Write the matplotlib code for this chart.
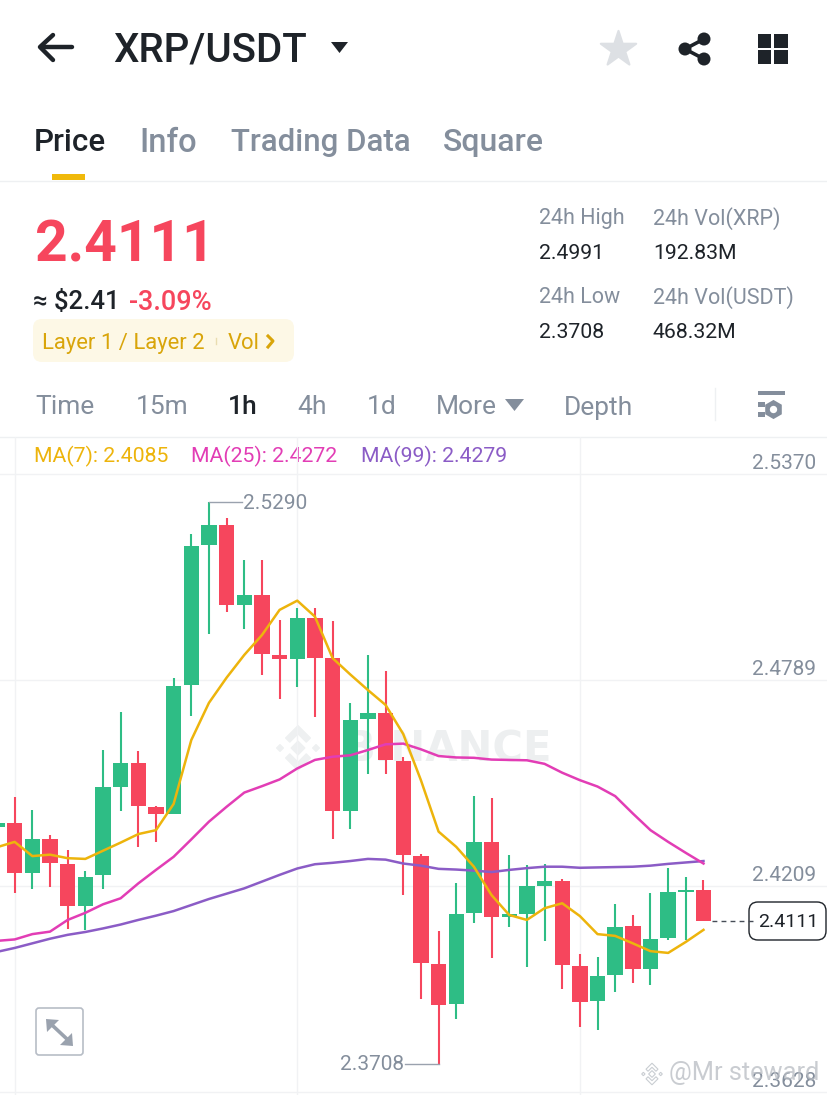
import numpy as np
import matplotlib
matplotlib.use('Agg')
import matplotlib.pyplot as plt
from matplotlib.patches import FancyBboxPatch, Polygon, Circle, Rectangle

plt.rcParams['font.family'] = ['Roboto', 'DejaVu Sans']

# candles, the first one is cut by the left edge
idx = np.arange(-1, 40)
opens = [2.4375, 2.4385, 2.4245, 2.4342, 2.4272, 2.4151, 2.4239, 2.4489, 2.4556, 2.4432, 2.4413,
         2.4774, 2.5169, 2.5226, 2.5001, 2.5028, 2.4859, 2.4848, 2.4964, 2.4851, 2.4421, 2.4680,
         2.4697, 2.4562, 2.4294, 2.3990, 2.3876, 2.4132, 2.4333, 2.4122, 2.4130, 2.4210, 2.4223,
         2.3983, 2.3884, 2.3958, 2.4095, 2.3974, 2.4062, 2.4193, 2.4197]
closes = [2.4385, 2.4244, 2.4342, 2.4273, 2.4151, 2.4235, 2.4489, 2.4556, 2.4434, 2.4413, 2.4772,
          2.5168, 2.5225, 2.5001, 2.5028, 2.4862, 2.4848, 2.4964, 2.4852, 2.4421, 2.4677, 2.4697,
          2.4565, 2.4296, 2.3992, 2.3874, 2.4129, 2.4333, 2.4121, 2.4129, 2.4209, 2.4223, 2.3985,
          2.3883, 2.3955, 2.4094, 2.3974, 2.4060, 2.4192, 2.4198, 2.4111]
highs = [2.4385, 2.4459, 2.4423, 2.4352, 2.4311, 2.4252, 2.4592, 2.4698, 2.4590, 2.4434, 2.4794,
         2.5200, 2.5290, 2.5247, 2.5127, 2.5127, 2.4958, 2.4992, 2.4992, 2.4955, 2.4724, 2.4860,
         2.4815, 2.4571, 2.4299, 2.4082, 2.4218, 2.4463, 2.4456, 2.4296, 2.4267, 2.4270, 2.4227,
         2.4017, 2.4009, 2.4157, 2.4126, 2.4188, 2.4259, 2.4235, 2.4225]
lows = [2.4375, 2.4190, 2.4201, 2.4205, 2.4088, 2.4084, 2.4201, 2.4421, 2.4319, 2.4333, 2.4411,
        2.4688, 2.4918, 2.4981, 2.4933, 2.4803, 2.4737, 2.4769, 2.4685, 2.4340, 2.4368, 2.4523,
        2.4523, 2.4184, 2.3891, 2.3708, 2.3833, 2.4103, 2.4007, 2.4094, 2.3979, 2.4055, 2.3919,
        2.3812, 2.3803, 2.3910, 2.3934, 2.3929, 2.4057, 2.4057, 2.4111]

ma7 = [2.4318, 2.4333, 2.4293, 2.4297, 2.4287, 2.4285, 2.4308, 2.4331, 2.4355, 2.4366, 2.4440,
       2.4620, 2.4725, 2.4796, 2.4860, 2.4916, 2.4987, 2.5013, 2.4968, 2.4851, 2.4805, 2.4761,
       2.4719, 2.4637, 2.4507, 2.4362, 2.4319, 2.4263, 2.4183, 2.4127, 2.4113, 2.4146, 2.4160,
       2.4124, 2.4073, 2.4068, 2.4047, 2.4025, 2.4020, 2.4051, 2.4085]
ma25 = [2.4054, 2.4058, 2.4073, 2.4080, 2.4113, 2.4133, 2.4157, 2.4174, 2.4216, 2.4254, 2.4291,
        2.4340, 2.4390, 2.4432, 2.4472, 2.4490, 2.4509, 2.4540, 2.4564, 2.4573, 2.4577, 2.4592,
        2.4608, 2.4610, 2.4594, 2.4575, 2.4571, 2.4570, 2.4565, 2.4564, 2.4563, 2.4553, 2.4528,
        2.4507, 2.4489, 2.4462, 2.4413, 2.4366, 2.4333, 2.4302, 2.4272]
ma99 = [2.4023, 2.4034, 2.4047, 2.4060, 2.4071, 2.4079, 2.4089, 2.4100, 2.4113, 2.4125, 2.4138,
        2.4155, 2.4172, 2.4187, 2.4202, 2.4221, 2.4240, 2.4258, 2.4270, 2.4274, 2.4279, 2.4285,
        2.4283, 2.4272, 2.4266, 2.4257, 2.4255, 2.4252, 2.4248, 2.4254, 2.4259, 2.4263, 2.4263,
        2.4260, 2.4261, 2.4262, 2.4263, 2.4266, 2.4271, 2.4275, 2.4279]

price_ticks = [2.5370, 2.4789, 2.4209, 2.3628]
grid_candles = [0, 16, 32]
high_idx, high_price = 11, 2.5290
low_idx, low_price = 24, 2.3708
last_price = 2.4111

GREEN = '#2EBD85'
RED = '#F6465D'
DARK = '#1E2329'
GREY = '#848E9C'
LINE = '#EEF0F2'
YELLOW = '#EDB40C'
MAGENTA = '#E23DB5'
PURPLE = '#8B5CC6'

fig = plt.figure(figsize=(8.28, 10.95), dpi=100, facecolor='white')

# page in pixel coordinates, sits under the chart
ui = fig.add_axes([0, 0, 1, 1], zorder=0)
ui.set_xlim(0, 828)
ui.set_ylim(1095, 0)
ui.axis('off')


def label(x, y, s, size, color=DARK, weight='normal', ha='left', **kw):
    return ui.text(x, y + 1.5, s, fontsize=size, color=color, weight=weight, ha=ha, va='center', **kw)


def logo(cx, cy, s, color, fill=True):
    # five piece diamond
    parts = [[(0, -.28), (.28, 0), (0, .28), (-.28, 0)],
             [(-.72, -.14), (-.58, 0), (-.72, .14), (-.86, 0)],
             [(.72, -.14), (.86, 0), (.72, .14), (.58, 0)],
             [(0, -.9), (.5, -.4), (.33, -.23), (0, -.56), (-.33, -.23), (-.5, -.4)],
             [(0, .9), (.5, .4), (.33, .23), (0, .56), (-.33, .23), (-.5, .4)]]
    for p in parts:
        pts = [(cx + a * s, cy + b * s) for a, b in p]
        ui.add_patch(Polygon(pts, closed=True, facecolor=color if fill else 'none',
                             edgecolor=color, lw=.8))


# header
ui.plot([42, 72], [47, 47], color=DARK, lw=3.2, solid_capstyle='round')
ui.plot([53, 40, 53], [35, 47, 60], color=DARK, lw=3.2, solid_capstyle='round', solid_joinstyle='round')
label(113, 49, 'XRP/USDT', 29, weight='medium')
ui.add_patch(Polygon([(331, 42), (348, 42), (339.5, 53)], closed=True, color=DARK, lw=0))
ui.scatter([618], [49], marker='*', s=720, color='#DDE0E4', edgecolors='#DDE0E4', linewidths=1.5)
for a, b in [((704, 39), (685, 49)), ((685, 49), (704, 59))]:
    ui.plot([a[0], b[0]], [a[1], b[1]], color=DARK, lw=2.6)
for c in [(704, 39), (685, 49), (704, 59)]:
    ui.add_patch(Circle(c, 6.5, color=DARK, lw=0))
for x0 in (758, 774.5):
    for y0 in (34, 50):
        ui.add_patch(Rectangle((x0, y0), 13.5, 13.5, color=DARK, lw=0))

# tabs
label(34, 141, 'Price', 22.5, weight='medium')
label(139, 141, 'Info', 23.5, color=GREY, weight='medium')
label(231, 141, 'Trading Data', 22.5, color=GREY, weight='medium')
label(443, 141, 'Square', 23, color=GREY, weight='medium')
ui.add_patch(Rectangle((52, 174), 33, 6, color='#F0B90B', lw=0))
ui.plot([0, 828], [181, 181], color=LINE, lw=1)

# price block
label(35, 245, '2.4111', 41, color=RED, weight='bold')
label(33, 301, '≈ $2.41', 18.5, weight='medium')
label(129, 301, '-3.09%', 19.5, color=RED, weight='medium')
ui.add_patch(FancyBboxPatch((33, 319), 261, 43, boxstyle='round,pad=0,rounding_size=9',
                            facecolor='#FDF8E6', edgecolor='none'))
label(42, 342, 'Layer 1 / Layer 2', 15.8, color='#D9A50A')
ui.plot([216, 216], [338, 344], color='#E9DDB0', lw=1)
label(228, 342, 'Vol', 15.8, color='#D9A50A')
ui.plot([268, 273, 268], [336, 341, 347], color='#D9A50A', lw=2.2)

label(539, 217, '24h High', 15.5, color=GREY)
label(539, 252, '2.4991', 15.3)
label(653, 217, '24h Vol(XRP)', 15.5, color=GREY)
label(653, 252, '192.83M', 15.3)
label(539, 296, '24h Low', 15.5, color=GREY)
label(539, 331, '2.3708', 15.3)
label(653, 296, '24h Vol(USDT)', 15.5, color=GREY)
label(653, 331, '468.32M', 15.3)

# interval bar
label(35, 406, 'Time', 19, color=GREY)
label(136, 406, '15m', 19, color=GREY)
label(228, 406, '1h', 19, weight='medium')
label(297, 406, '4h', 19, color=GREY)
label(367, 406, '1d', 19, color=GREY)
label(436, 406, 'More', 19, color=GREY)
ui.add_patch(Polygon([(505, 399), (524, 399), (514.5, 411)], closed=True, color=GREY, lw=0))
label(564, 406, 'Depth', 19, color=GREY)
ui.plot([715, 715], [388, 420], color=LINE, lw=1)
ui.add_patch(Rectangle((758, 391), 27, 4, color=GREY, lw=0))
ui.add_patch(Rectangle((758, 402), 7, 5, color=GREY, lw=0))
ui.add_patch(Rectangle((758, 412), 7, 5, color=GREY, lw=0))
ui.scatter([773], [409], marker='h', s=190, color=GREY, linewidths=0)
ui.scatter([773], [409], marker='o', s=28, color='white', linewidths=0)
ui.plot([0, 828], [437, 437], color=LINE, lw=1)

# watermark under the candles
logo(298, 748, 25, '#EEF0F1')
ui.text(343, 749.5, 'BINANCE', fontsize=30, color='#EDEFF0', weight='bold', family='DejaVu Sans', va='center')

# chart, axes limits put the candles on the screen grid
ax = fig.add_axes([0, 0, 1, (1095 - 437) / 1095], zorder=1)
ax.patch.set_alpha(0)
ax.set_xlim(-0.8307, 46.05)
ax.set_ylim(2.36195, 2.54743)
for s in ax.spines.values():
    s.set_visible(False)
ax.set_xticks(grid_candles)
ax.set_yticks(price_ticks)
ax.tick_params(length=0, labelbottom=False, labelleft=False)
ax.grid(True, color='#F1F2F4', lw=1)
ax.set_axisbelow(True)

opens = np.array(opens)
closes = np.array(closes)
colors = [GREEN if c >= o else RED for o, c in zip(opens, closes)]
ax.vlines(idx, lows, highs, colors=colors, lw=1.5, zorder=2)
ax.bar(idx, np.abs(closes - opens), bottom=np.minimum(opens, closes), width=0.87, color=colors, zorder=3)

ax.plot(idx, ma99, color=PURPLE, lw=1.8, zorder=4)
ax.plot(idx, ma25, color=MAGENTA, lw=1.8, zorder=5)
ax.plot(idx, ma7, color=YELLOW, lw=1.8, zorder=6)

for p in price_ticks:
    ax.annotate(f'{p:.4f}', xy=(816, p), xycoords=('figure pixels', 'data'), xytext=(0, 0.8),
                textcoords='offset points', ha='right', va='bottom', fontsize=15, color=GREY)

ax.plot([high_idx, high_idx + 1.88], [high_price, high_price], color='#9AA2AE', lw=1, zorder=2)
ax.annotate(f'{high_price:.4f}', xy=(high_idx + 1.93, high_price), xytext=(0, -1),
            textcoords='offset points', fontsize=15, color=GREY, va='center')
ax.plot([low_idx, low_idx - 1.88], [low_price, low_price], color='#9AA2AE', lw=1, zorder=2)
ax.annotate(f'{low_price:.4f}', xy=(low_idx - 1.93, low_price), xytext=(0, -1),
            textcoords='offset points', fontsize=15, color=GREY, va='center', ha='right')

ax.plot([39.5, 41.9], [last_price, last_price], color='#474D57', lw=1, ls=(0, (3.5, 3)))
ui.add_patch(FancyBboxPatch((749, 902), 77, 38, boxstyle='round,pad=0,rounding_size=9',
                            facecolor='white', edgecolor=DARK, lw=1, zorder=3))
ax.annotate(f'{last_price:.4f}', xy=(788, last_price), xycoords=('figure pixels', 'data'), xytext=(0, -1),
            textcoords='offset points', ha='center', va='center', fontsize=14, color=DARK, zorder=8)

# legend row goes over the grid
label(34, 455, 'MA(7): 2.4085', 15.3, color=YELLOW)
label(191, 455, 'MA(25): 2.4272', 15.3, color=MAGENTA)
label(361, 455, 'MA(99): 2.4279', 15.3, color=PURPLE)

# expand button
ui.add_patch(FancyBboxPatch((36, 1008), 47, 47, boxstyle='round,pad=0,rounding_size=3',
                            facecolor='white', edgecolor='#B7BDC6', lw=1.2))
ui.plot([52, 68], [1025, 1040], color='#9AA2AE', lw=2.6)
ui.add_patch(Polygon([(46, 1019), (59, 1020), (47, 1032)], closed=True, color='#9AA2AE', lw=0))
ui.add_patch(Polygon([(73, 1046), (60, 1045), (72, 1033)], closed=True, color='#9AA2AE', lw=0))

# reposter's watermark
logo(652, 1074, 12, '#C9CDD2', fill=False)
ax.text(669, 1073, '@Mr steward', transform=ui.transData, fontsize=18.3, color='#B8BCC2',
        alpha=.75, va='center', ha='left', zorder=9)

fig.savefig('out.png', dpi=100)
